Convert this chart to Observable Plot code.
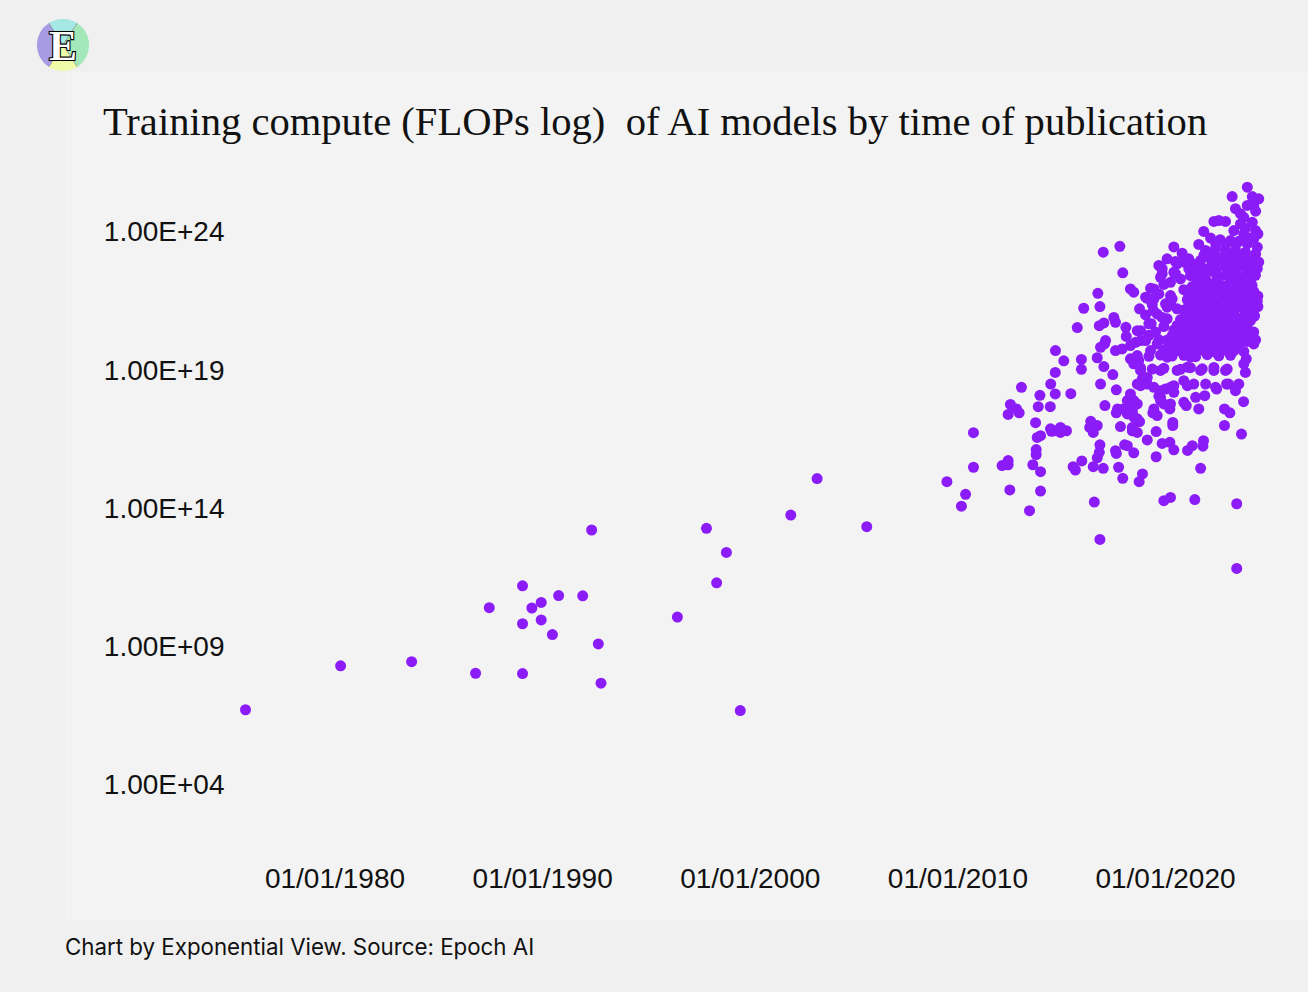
<!DOCTYPE html>
<html>
<head>
<meta charset="utf-8">
<script src="https://cdn.jsdelivr.net/npm/d3@7"></script>
<script src="https://cdn.jsdelivr.net/npm/@observablehq/plot@0.6"></script>
<style>
  html, body { margin: 0; padding: 0; }
  body { width: 1308px; height: 992px; background: #f0f0f0; position: relative; overflow: hidden; }
  #panel { position: absolute; left: 65px; top: 72px; width: 1243px; height: 849px; background: #f3f3f3; }
  #logo { position: absolute; left: 37px; top: 19px; }
  #title { position: absolute; left: 103px; top: 102px; font-family: "Liberation Serif", "Times New Roman", serif; font-size: 40.6px; line-height: 40px; color: #111; white-space: pre; }
  #chart { position: absolute; left: 0; top: 160px; }
  #caption { position: absolute; left: 65px; top: 934px; font-family: Inter, "Liberation Sans", sans-serif; font-size: 22.3px; line-height: 26px; color: #111; }
</style>
</head>
<body>
<div id="panel"></div>
<svg id="logo" width="52" height="52" viewBox="0 0 52 52">
  <path d="M26,26 L11.8,4.2 A26,26 0 0 1 40.2,4.2 Z" fill="#a5e7e3"/>
  <path d="M26,26 L40.2,4.2 A26,26 0 0 1 40.2,47.8 Z" fill="#a3e8b8"/>
  <path d="M26,26 L40.2,47.8 A26,26 0 0 1 11.8,47.8 Z" fill="#eefba7"/>
  <path d="M26,26 L11.8,47.8 A26,26 0 0 1 11.8,4.2 Z" fill="#a79be3"/>
  <g stroke="#777" stroke-width="0.6" fill="none">
    <line x1="26" y1="26" x2="11.8" y2="4.2"/><line x1="26" y1="26" x2="40.2" y2="4.2"/>
    <line x1="26" y1="26" x2="40.2" y2="47.8"/><line x1="26" y1="26" x2="11.8" y2="47.8"/>
  </g>
  <text x="26" y="41" text-anchor="middle" font-family="Liberation Serif, serif" font-weight="bold" font-size="42" fill="#fff" stroke="#000" stroke-width="2.2" paint-order="stroke">E</text>
</svg>
<div id="title">Training compute (FLOPs log)  of AI models by time of publication</div>
<div id="chart"></div>
<div id="caption">Chart by Exponential View. Source: Epoch AI</div>
<script>
// Each model: [publication date as decimal year, log10 of training compute in FLOPs]
const earlyModels = [
  [1975.69,6.74],[1980.27,8.33],[1983.69,8.48],[1986.77,8.06],[1989.03,8.05],[1987.43,10.43],
  [1989.03,11.22],[1989.48,10.42],[1989.93,10.62],[1989.03,9.85],[1989.93,9.99],[1990.47,9.46],
  [1990.77,10.87],[1991.93,10.86],[1992.36,13.24],[1992.68,9.12],[1992.81,7.70],[1996.49,10.09],
  [1997.89,13.30],[1998.38,11.33],[1998.85,12.43],[1999.52,6.71],[2001.95,13.78],[2003.22,15.10],
  [2005.61,13.36]
];

const deepLearningModels = [
  [2013.06,18.40],[2014.47,18.52],[2013.95,18.11],[2014.69,18.16],[2015.44,18.17],[2016.87,18.52],
  [2017.63,18.31],[2012.53,17.78],[2012.82,17.62],[2012.42,17.42],[2012.95,17.48],[2013.87,17.70],
  [2014.45,17.70],[2013.74,17.12],[2010.75,16.76],[2014.62,16.83],[2014.94,16.95],[2015.23,16.83],
  [2014.51,16.81],[2013.82,16.59],[2013.98,16.65],[2013.77,16.15],[2013.77,15.97],[2012.42,15.75],
  [2012.13,15.57],[2012.42,15.60],[2013.61,15.60],[2013.98,15.35],[2010.75,15.51],[2009.47,14.99],
  [2010.37,14.53],[2010.17,14.10],[2012.50,14.69],[2013.98,14.65],[2013.45,13.94],[2015.55,15.53],
  [2015.66,15.41],[2015.97,15.74],[2016.52,15.53],[2017.00,15.47],[2016.57,14.25],[2016.84,12.90],
  [2016.40,17.17],[2016.71,17.02],[2016.52,16.77],[2016.35,16.95],[2017.08,17.74],[2016.84,16.32],
  [2016.81,16.05],[2016.71,15.85],[2017.59,16.11],[2017.63,16.01],[2017.74,15.51],[2017.94,15.11],
  [2017.83,16.98],[2018.03,16.32],[2018.16,16.29],[2018.47,16.03],[2017.69,17.62],[2017.63,17.48],
  [2017.96,17.62],[2018.16,17.44],[2018.40,17.50],[2018.47,17.32],[2018.64,17.80],[2018.40,16.95],
  [2018.75,17.16],[2018.89,15.27],[2018.73,14.99],[2019.12,16.50],[2019.55,16.80],[2019.55,15.89],
  [2019.44,17.62],[2019.39,17.48],[2019.76,17.92],[2019.68,18.08],[2019.92,17.80],[2020.21,17.62],
  [2019.84,16.37],[2020.21,16.41],[2020.40,16.14],[2020.35,17.13],[2020.35,17.02],[2019.92,14.30],
  [2020.24,14.42],[2021.06,16.12],[2021.29,16.29],[2021.83,16.47],[2021.80,16.27],[2021.69,15.47],
  [2021.41,14.34],[2020.88,17.86],[2021.00,17.74],[2021.45,18.04],[2021.60,17.62],[2021.89,18.10],
  [2022.46,18.34],[2022.84,17.02],[2022.84,17.62],[2023.10,17.48],[2023.37,18.28],[2023.53,18.52],
  [2022.94,18.52],[2023.76,17.88],[2023.66,16.71],[2023.43,14.19],[2023.43,11.85],[2018.80,18.46],
  [2019.12,18.52],[2019.44,18.40],[2020.24,18.40],[2020.40,18.22],[2021.05,18.46],[2021.36,18.52],
  [2014.46,16.90],[2014.94,16.77],[2018.40,16.83],[2018.64,16.77],[2018.40,17.62],[2018.64,17.26],
  [2019.60,17.38],[2019.76,18.04],[2020.16,17.74],[2019.04,18.58],[2018.88,18.71],[2020.00,18.34],
  [2020.40,18.46],[2020.88,18.64],[2021.93,18.52]
];

const largeScaleModels = [
  [2023.94,25.64],[2023.21,25.30],[2024.18,25.30],[2024.49,25.22],[2024.25,24.98],[2023.37,24.86],
  [2023.94,24.98],[2024.34,24.77],[2023.61,24.68],[2023.77,24.55],[2022.33,24.40],[2022.89,24.40],
  [2022.57,24.43],[2021.84,24.04],[2017.80,23.50],[2017.00,23.29],[2020.40,23.48],[2021.60,23.57],
  [2017.94,22.54],[2020.08,23.05],[2019.76,22.77],[2019.84,22.51],[2020.48,22.51],[2016.74,21.80],
  [2018.31,21.96],[2018.47,21.84],[2016.06,21.26],[2016.84,21.32],[2015.75,20.56],[2016.81,20.63],
  [2017.03,20.73],[2017.51,20.93],[2017.59,20.75],[2018.75,21.24],[2019.12,21.62],[2019.44,21.60],
  [2019.44,21.96],[2018.09,20.57],[2018.11,20.24],[2018.80,20.45],[2018.80,20.09],[2019.31,20.70],
  [2019.41,21.18],[2019.84,20.93],[2020.08,20.88],[2020.24,21.42],[2020.08,21.30],[2014.70,19.73],
  [2015.10,19.36],[2015.95,19.41],[2015.95,19.05],[2014.69,18.94],[2016.87,19.85],[2017.06,19.97],
  [2016.71,19.47],[2017.59,19.73],[2017.03,19.15],[2017.46,18.86],[2017.91,19.79],[2018.31,19.91],
  [2018.31,19.43],[2018.47,19.25],[2018.71,19.37],[2017.11,20.09],[2018.31,18.16],[2018.47,17.92],
  [2018.16,17.92],[2018.64,18.52],[2019.12,18.76],[2018.80,19.01],[2019.76,18.28],[2020.24,17.80],
  [2022.33,19.01],[2022.89,19.01],[2022.41,18.40],[2023.04,18.52],[2023.85,18.94],[2023.77,19.25],
  [2023.89,19.43],[2024.01,20.33],[2024.25,19.97],[2023.94,21.18],[2024.09,21.54],[2020.56,19.01],
  [2021.05,19.13],[2021.69,19.01],[2021.20,19.49],[2020.56,19.73],[2020.08,19.49],[2019.76,19.01],
  [2019.36,21.40],[2019.60,21.05],[2019.52,20.40],[2019.92,20.60],[2019.28,21.98],[2019.68,21.78],
  [2019.04,21.02],[2019.20,20.28],[2019.68,20.12],[2019.92,22.12],[2020.48,22.95],[2020.80,23.25]
];

const frontierModels = [
  [2023.61,24.31],[2024.18,24.37],[2024.34,24.07],[2023.29,24.07],[2023.77,23.95],[2024.25,23.77],
  [2024.42,23.47],[2022.17,23.80],[2022.63,23.74],[2023.13,23.71],[2023.53,23.68],[2023.94,23.59],
  [2021.93,23.35],[2022.41,23.43],[2022.89,23.33],[2023.37,23.37],[2023.85,23.29],[2024.34,23.23],
  [2021.69,22.99],[2022.17,23.06],[2022.65,22.97],[2023.13,23.01],[2023.61,22.93],[2024.09,22.99],
  [2024.49,22.93],[2022.01,22.69],[2022.49,22.73],[2022.97,22.67],[2023.45,22.72],[2023.94,22.68],
  [2024.42,22.70],[2020.56,22.87],[2021.12,23.05],[2020.88,22.93],[2021.29,22.87],[2019.68,22.81],
  [2019.84,22.69],[2020.40,22.56],[2021.12,22.69],[2021.69,22.63],[2024.25,22.63],[2019.04,21.66],
  [2019.20,20.70],[2020.00,21.42],[2020.32,21.60],[2020.56,21.24],[2020.24,21.72],[2019.76,22.38],
  [2020.24,22.20],[2020.72,22.32],[2021.20,22.44],
  [2021.53,22.28],[2022.01,22.22],[2022.49,22.30],[2023.13,22.24],[2023.61,22.29],[2024.09,22.21],
  [2020.88,21.93],[2021.36,21.86],[2021.84,21.94],[2022.33,21.88],[2022.81,21.95],[2023.29,21.85],
  [2023.77,21.92],[2024.25,21.87],
  [2021.05,21.57],[2021.53,21.50],[2022.01,21.56],[2022.49,21.52],[2022.97,21.58],[2023.45,21.49],
  [2023.94,21.55],[2024.42,21.51],
  [2020.88,21.20],[2021.36,21.15],[2021.84,21.21],[2022.33,21.16],[2022.81,21.19],[2023.29,21.14],
  [2023.77,21.22],[2024.25,21.17],
  [2020.72,20.85],[2021.20,20.79],[2021.69,20.84],[2022.17,20.80],[2022.65,20.86],[2023.13,20.78],
  [2023.61,20.83],[2024.09,20.81],
  [2020.40,20.47],[2020.88,20.42],[2021.36,20.48],[2021.84,20.43],[2022.33,20.46],[2022.81,20.41],
  [2023.29,20.47],[2023.77,20.44],[2024.25,20.40],
  [2020.08,20.11],[2020.56,20.06],[2021.05,20.12],[2021.53,20.07],[2022.01,20.10],[2022.49,20.05],
  [2022.97,20.11],[2023.45,20.08],[2023.94,20.06],[2024.34,20.12],
  [2019.92,19.75],[2020.40,19.70],[2020.88,19.76],[2021.36,19.71],[2021.84,19.74],[2022.33,19.69],
  [2022.81,19.75],[2023.29,19.72],[2023.77,19.70],
  [2018.64,20.45],[2019.04,20.09],[2019.60,19.97],[2019.28,19.73],[2018.56,20.03],
  [2018.64,19.55],[2019.20,19.52],[2019.76,19.57],[2020.32,19.53],[2020.88,19.56],[2021.45,19.51],
  [2022.01,19.58],[2022.57,19.54],[2023.13,19.56],
  [2018.80,19.10],[2019.36,19.06],[2019.92,19.09],[2020.72,19.05],[2021.20,19.11],[2021.77,19.07],
  [2022.33,19.12],[2022.97,19.06],
  // releases between the rows of the densest 2020-2024 band
  [2021.29,22.05],[2021.77,22.10],[2022.25,22.03],[2022.73,22.08],[2023.21,22.06],[2023.69,22.02],[2024.17,22.09],
  [2021.12,21.72],[2021.60,21.68],[2022.08,21.75],[2022.57,21.70],[2023.05,21.73],[2023.53,21.67],[2024.01,21.74],[2024.45,21.70],
  [2021.12,21.36],[2021.60,21.33],[2022.08,21.38],[2022.57,21.35],[2023.05,21.31],[2023.53,21.37],[2024.01,21.34],[2024.45,21.32],
  [2020.96,21.00],[2021.45,20.97],[2021.93,21.02],[2022.41,20.99],[2022.89,21.03],[2023.37,20.96],[2023.85,21.01],[2024.29,20.98],
  [2020.56,20.64],[2021.05,20.61],[2021.53,20.66],[2022.01,20.62],[2022.49,20.65],[2022.97,20.60],[2023.45,20.63],[2023.94,20.67],
  [2020.32,20.27],[2020.80,20.25],[2021.29,20.29],[2021.77,20.24],[2022.25,20.28],[2022.73,20.23],[2023.21,20.26],[2023.69,20.30],[2024.17,20.25],
  [2020.16,19.92],[2020.64,19.90],[2021.12,19.94],[2021.60,19.89],[2022.08,19.93],[2022.57,19.88],[2023.05,19.91],[2023.53,19.87],
  [2021.45,22.55],[2021.93,22.48],[2022.41,22.52],[2022.89,22.46],[2023.37,22.50],[2023.85,22.47],[2024.33,22.45],
  [2021.85,23.18],[2022.33,23.22],[2022.81,23.16],[2023.29,23.20],[2023.77,23.14],
  [2022.41,23.62],[2022.89,23.58],[2023.37,23.55],[2021.53,22.80],[2022.25,22.86],[2022.73,22.84],
  [2023.21,22.83],[2023.69,22.85],[2024.17,22.80],[2023.85,24.15],[2024.01,23.80],[2024.45,23.95]
];

// Axis ticks
const tickYears = [1980, 1990, 2000, 2010, 2020];
const tickExponents = [4, 9, 14, 19, 24];

function yearToDate(y) {
  const yr = Math.floor(y);
  const start = Date.UTC(yr, 0, 1), end = Date.UTC(yr + 1, 0, 1);
  return new Date(start + (y - yr) * (end - start));
}

const models = [...earlyModels, ...deepLearningModels, ...largeScaleModels, ...frontierModels]
  .map(([year, logFlops]) => ({date: yearToDate(year), flops: Math.pow(10, logFlops)}));

const chart = Plot.plot({
  width: 1308,
  height: 760,
  marginLeft: 334.5,
  marginRight: 143,
  marginTop: 72,
  marginBottom: 135,
  style: {background: "transparent", fontFamily: "'Liberation Sans', Arial, sans-serif", fontSize: "28px", color: "#111"},
  x: {type: "utc", domain: [new Date(Date.UTC(1980, 0, 1)), new Date(Date.UTC(2020, 0, 1))]},
  y: {type: "log", domain: [1e4, 1e24]},
  marks: [
    Plot.axisX({
      ticks: tickYears.map(y => new Date(Date.UTC(y, 0, 1))),
      tickFormat: d => "01/01/" + d.getUTCFullYear(),
      tickSize: 0, tickPadding: 83, label: null
    }),
    Plot.axisY({
      ticks: tickExponents.map(e => Math.pow(10, e)),
      tickFormat: d => "1.00E+" + String(Math.round(Math.log10(d))).padStart(2, "0"),
      tickSize: 0, tickPadding: 110.5, label: null
    }),
    Plot.dot(models, {x: "date", y: "flops", r: 5.5, fill: "#8b1cf7", stroke: "none"})
  ]
});
document.getElementById("chart").appendChild(chart);
</script>
</body>
</html>
